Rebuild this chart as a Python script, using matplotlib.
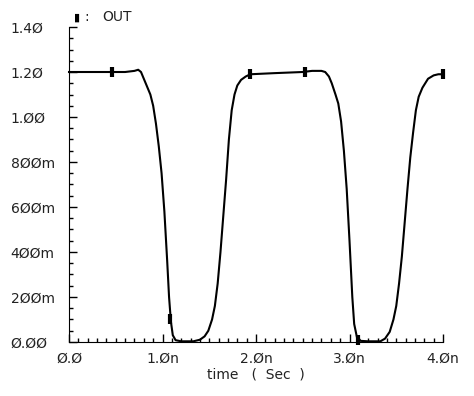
import matplotlib.pyplot as plt
from matplotlib.ticker import MultipleLocator

# transient output, time in ns, voltage in V
t = [0.0, 0.3, 0.6, 0.70, 0.74, 0.77, 0.80, 0.83, 0.87, 0.90, 0.93, 0.96, 0.99, 1.02, 1.05,
     1.07, 1.09, 1.11, 1.14, 1.20, 1.33, 1.40, 1.45, 1.49, 1.53, 1.56, 1.59, 1.62, 1.65,
     1.68, 1.71, 1.74, 1.77, 1.80, 1.84, 1.89, 1.94,
     2.2, 2.5, 2.60, 2.70, 2.74, 2.78, 2.81, 2.85, 2.88, 2.91, 2.94, 2.97, 3.00, 3.03,
     3.05, 3.08, 3.12, 3.20, 3.33, 3.38, 3.43, 3.47, 3.50, 3.53, 3.56, 3.59, 3.62, 3.65,
     3.68, 3.71, 3.74, 3.78, 3.84, 3.90, 3.95, 4.0]
v = [1.20, 1.20, 1.20, 1.205, 1.21, 1.20, 1.17, 1.14, 1.10, 1.05, 0.97, 0.87, 0.75, 0.58, 0.36,
     0.20, 0.09, 0.03, 0.008, 0.003, 0.003, 0.01, 0.025, 0.05, 0.10, 0.16, 0.26, 0.40, 0.56,
     0.72, 0.90, 1.03, 1.10, 1.14, 1.165, 1.18, 1.19,
     1.195, 1.20, 1.205, 1.205, 1.20, 1.18, 1.15, 1.10, 1.06, 0.98, 0.85, 0.68, 0.45, 0.20,
     0.08, 0.02, 0.005, 0.003, 0.003, 0.015, 0.045, 0.10, 0.16, 0.26, 0.38, 0.53, 0.68, 0.82,
     0.93, 1.03, 1.09, 1.13, 1.17, 1.185, 1.19, 1.19]
mark_t = [0.46, 1.08, 1.94, 2.52, 3.09, 4.0]
mark_v = [1.20, 0.10, 1.19, 1.20, 0.01, 1.19]

yticks = [0.0, 0.2, 0.4, 0.6, 0.8, 1.0, 1.2, 1.4]
ylabels = ["Ø.ØØ", "2ØØm", "4ØØm", "6ØØm", "8ØØm", "1.ØØ", "1.2Ø", "1.4Ø"]
xticks = [0, 1, 2, 3, 4]
xlabels = ["Ø.Ø", "1.Øn", "2.Øn", "3.Øn", "4.Øn"]

txt = "#222222"
fig = plt.figure(figsize=(4.74, 3.96), dpi=100)
ax = fig.add_axes([0.1456, 0.1364, 0.789, 0.7954])
ax.plot(t, v, color="black", lw=1.5, clip_on=False)
ax.plot(mark_t, mark_v, ls="none", marker="|", ms=7, mew=3, color="black", clip_on=False)

ax.set_xlim(0, 4)
ax.set_ylim(0, 1.4)
ax.set_xticks(xticks)
ax.set_xticklabels(xlabels)
ax.set_yticks(yticks)
ax.set_yticklabels(ylabels)
ax.xaxis.set_minor_locator(MultipleLocator(0.1))
ax.yaxis.set_minor_locator(MultipleLocator(0.05))
ax.tick_params(which="both", direction="in", color="black", labelsize=10, labelcolor=txt)
ax.tick_params(which="major", length=6, width=1)
ax.tick_params(which="minor", length=3, width=1)
ax.tick_params(axis="y", pad=42)
ax.tick_params(axis="x", pad=7)
for lab in ax.get_yticklabels():
    lab.set_horizontalalignment("left")
for s in ["top", "right"]:
    ax.spines[s].set_visible(False)
ax.set_xlabel("time   (  Sec  )", fontsize=10, color=txt, labelpad=1)

fig.text(0.156, 0.956, "▮", fontsize=8, color="black", va="center")
fig.text(0.178, 0.958, ":", fontsize=10, color=txt, va="center")
fig.text(0.215, 0.958, "OUT", fontsize=10, color=txt, va="center")

plt.savefig("out.png", dpi=100)
